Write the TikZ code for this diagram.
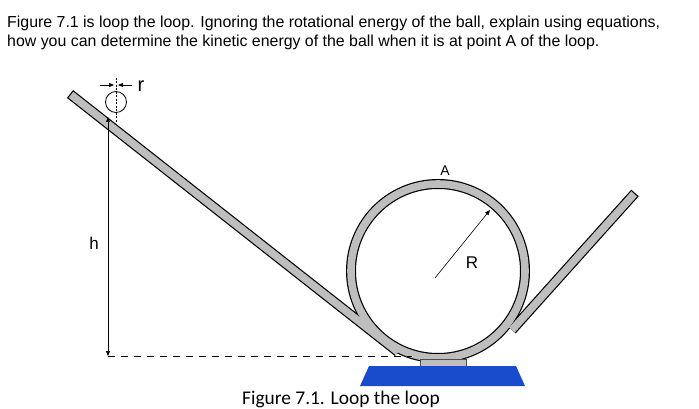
\documentclass[tikz,border=0pt]{standalone}
\usepackage{fontspec}
\setmainfont{Liberation Sans}
\newfontfamily\capfont{Carlito}
\usetikzlibrary{arrows.meta}
\definecolor{trk}{RGB}{190,190,190}
\definecolor{baseblue}{RGB}{25,75,205}
\tikzset{
 outer/.style={line width=10pt,black},
 inner/.style={line width=7.6pt,trk},
 dim/.style={line width=0.6pt,-{Triangle[length=5pt,width=4pt]}},
}
\begin{document}
\begin{tikzpicture}[x=1pt,y=-1pt]
\useasboundingbox (0,0) rectangle (699,409);
\node[anchor=west,inner sep=0,font=\fontsize{15.9}{18}\selectfont] (t1) at (7,23) {Figure 7.1 is loop the loop. Ignoring the rotational energy of the ball, explain using equations,};
\node[anchor=west,inner sep=0,font=\fontsize{15.9}{18}\selectfont] (t2) at (7,42) {how you can determine the kinetic energy of the ball when it is at point A of the loop.};
% track
\coordinate (L1) at (70,94);
\coordinate (L2) at (398,352);
\coordinate (R1) at (512,330);
\coordinate (R2) at (635,193);
\coordinate (C) at (438,271);
\draw[outer] (L1) -- (L2);
\draw[outer] (C) circle (87);
\draw[outer] (R1) -- (R2);
\draw[inner,shorten <=1.2pt] (L1) -- (L2);
\draw[inner] (C) circle (87);
\draw[inner,shorten >=1.2pt] (R1) -- (R2);
% base
\draw[fill=trk,draw=black!70,line width=0.6pt] (420,359) rectangle (466,366);
\fill[baseblue] (369,366) -- (516,366) -- (525,386) -- (360,386) -- cycle;
% ball
\node[draw,circle,minimum size=21pt,inner sep=0,fill=white,line width=0.8pt] (ball) at (116,102) {};
\draw[dashed,line width=0.6pt,dash pattern=on 2pt off 1.5pt] (116,78) -- (116,122);
\coordinate (ra) at (100,85);
\coordinate (rb) at (114,85);
\coordinate (rc) at (132,85);
\coordinate (rd) at (118,85);
\draw[dim] (ra) -- (rb);
\draw[dim] (rc) -- (rd);
\node[font=\fontsize{20}{22}\selectfont] (r) at (141,86) {r};
% h
\coordinate (h1) at (108,356);
\coordinate (h2) at (108,117);
\draw[dim,{Triangle[length=5pt,width=4pt]}-{Triangle[length=5pt,width=4pt]}] (h1) -- (h2);
\node[font=\fontsize{17}{20}\selectfont] (h) at (94,243) {h};
\coordinate (d2) at (412,356);
\draw[dashed,line width=1pt,dash pattern=on 7pt off 6pt] (h1) -- (d2);
% R
\coordinate (Rend) at (490,210);
\draw[dim] (435,278) -- (Rend);
\node[font=\fontsize{17}{20}\selectfont] (Rl) at (472,263) {R};
\node[font=\fontsize{14}{16}\selectfont] (A) at (445,171) {A};
\node[font=\capfont\fontsize{19.4}{20}\selectfont] (cap) at (341,399) {Figure 7.1. Loop the loop};
\end{tikzpicture}
\end{document}
